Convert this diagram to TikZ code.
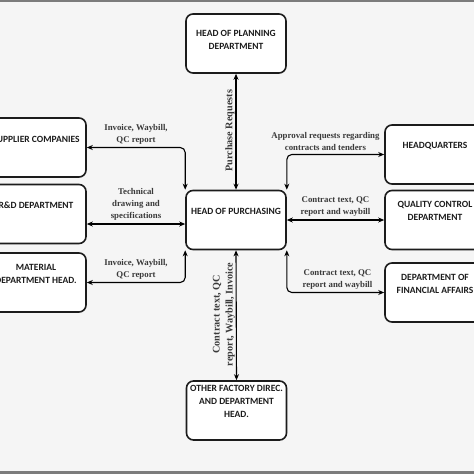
\documentclass[tikz,border=0pt]{standalone}
\usepackage{fontspec}
\setmainfont{Liberation Serif}
\newfontfamily\boxfont{Carlito}
\usetikzlibrary{arrows.meta,positioning}
\definecolor{bgpaper}{HTML}{F5F5F5}
\definecolor{framegray}{HTML}{7C7C7C}
\definecolor{inkblack}{HTML}{1C1C1C}
\definecolor{labgray}{HTML}{3A3A3A}

\begin{document}
\begin{tikzpicture}[x=1pt, y=-1pt, >={Stealth[length=6pt,width=5pt]}, line width=1.1pt,
  box/.style={draw=inkblack, line width=1.6pt, rounded corners=7pt, fill=white, minimum width=100pt, minimum height=59pt, inner sep=0pt},
  btxt/.style={font=\boxfont\bfseries\fontsize{9.5}{13}\selectfont, align=center, text=inkblack, inner sep=0pt},
  lab/.style={font=\bfseries\fontsize{8.8}{12}\selectfont, align=center, text=labgray, inner sep=1pt},
  vlab/.style={lab, font=\bfseries\fontsize{10.2}{13}\selectfont, rotate=90}]
\useasboundingbox (0,0) rectangle (474,474);
\fill[bgpaper] (0,0) rectangle (474,474);
\fill[framegray] (0,0) rectangle (474,2);
\fill[framegray] (0,471) rectangle (474,474);
\clip (0,0) rectangle (474,474);
% centre column
\node[box] (plan) at (236,43.5) {};
\node[btxt] (plantxt) at ([yshift=4]plan.center) {HEAD OF PLANNING\\DEPARTMENT};
\node[box] (purch) at (236,220) {};
\node[btxt] (purchtxt) at ([yshift=9]purch.center) {HEAD OF PURCHASING};
\node[box] (other) at (236.5,410.5) {};
\node[btxt] (othertxt) at ([yshift=9.5]other.center) {OTHER FACTORY DIREC.\\AND DEPARTMENT\\HEAD.};
% left column
\node[box] (sup) at (36,147.5) {};
\node[btxt] (suptxt) at ([yshift=8.5]sup.center) {SUPPLIER COMPANIES};
\node[box] (rd) at (36,214) {};
\node[btxt] (rdtxt) at ([yshift=9]rd.center) {R\&D DEPARTMENT};
\node[box] (mat) at (36,282.5) {};
\node[btxt] (mattxt) at ([yshift=9]mat.center) {MATERIAL\\DEPARTMENT HEAD.};
% right column
\node[box] (hq) at (435,154.5) {};
\node[btxt] (hqtxt) at ([yshift=8.5]hq.center) {HEADQUARTERS};
\node[box] (qc) at (435,220) {};
\node[btxt] (qctxt) at ([yshift=9]qc.center) {QUALITY CONTROL\\DEPARTMENT};
\node[box] (fin) at (435,292.5) {};
\node[btxt] (fintxt) at ([yshift=9]fin.center) {DEPARTMENT OF\\FINANCIAL AFFAIRS};
% flows
\draw[<->] (plan.south) -- node[vlab, above=1pt] {Purchase Requests} (purch.north);
\draw[<->] (purch.south) -- node[vlab, above=1pt] {Contract text, QC\\report, Waybill, Invoice} (other.north);
\draw[<->, rounded corners=5pt] (sup.east) -| node[lab, pos=0.25, above=2pt] {Invoice, Waybill,\\QC report} (purch.north west);
\coordinate (rdend) at ([yshift=-4]purch.west);
\draw[<->] (rd.east |- rdend) -- node[lab, above=2pt] {Technical\\drawing and\\specifications} (rdend);
\draw[<->, rounded corners=5pt] (mat.east) -| node[lab, pos=0.25, above=2pt] {Invoice, Waybill,\\QC report} (purch.south west);
\draw[<->, rounded corners=5pt] (hq.west) -| node[lab, pos=0.25, above=2pt, xshift=-10] {Approval requests regarding\\contracts and tenders} (purch.north east);
\draw[<->] (purch.east) -- node[lab, above=2pt] {Contract text, QC\\report and waybill} (qc.west);
\draw[<->, rounded corners=5pt] (fin.west) -| node[lab, pos=0.25, above=2pt, xshift=2] {Contract text, QC\\report and waybill} (purch.south east);
\end{tikzpicture}
\end{document}
